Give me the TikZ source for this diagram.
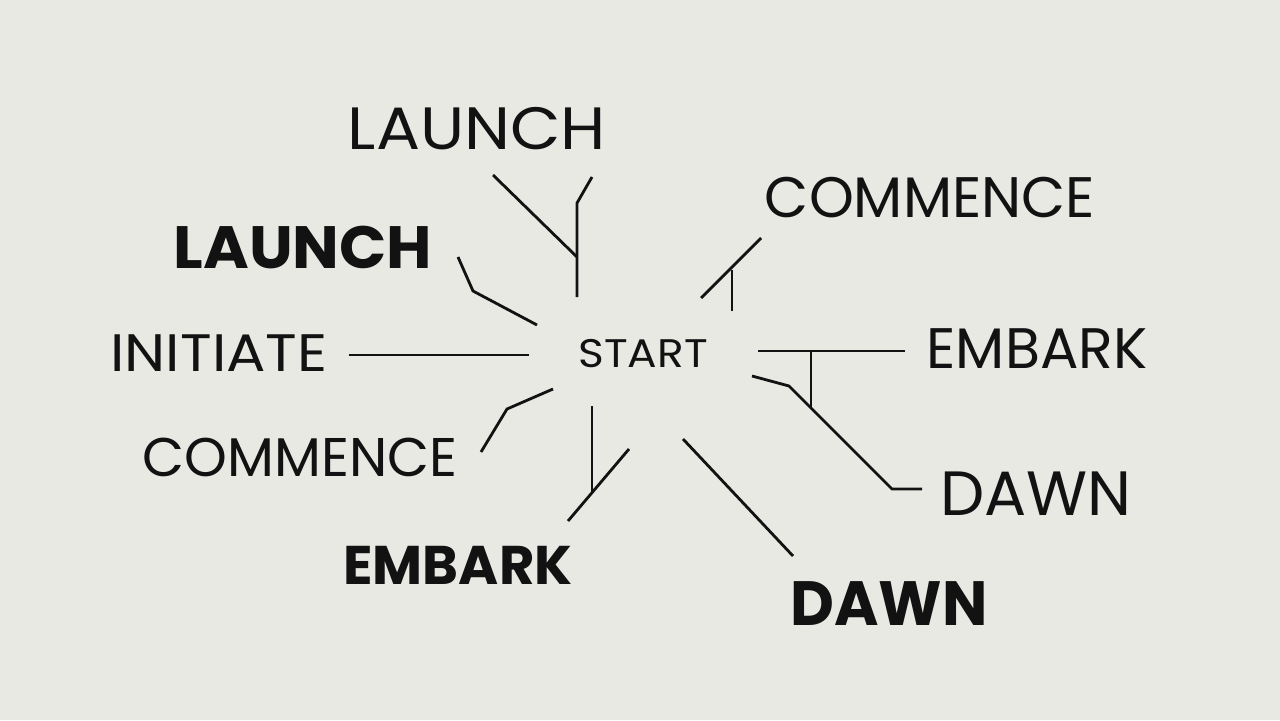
\documentclass[tikz,border=0pt]{standalone}
\usepackage{fontspec}
\setmainfont{Poppins}
\usepackage{graphicx}
\definecolor{bg}{HTML}{E9E9E4}
\definecolor{ink}{HTML}{121212}
\tikzset{
  word/.style={inner sep=0pt, anchor=center, text=ink},
  wreg/.style={word, font=\fontsize{#1}{#1}\selectfont},
  wbold/.style={word, font=\fontsize{#1}{#1}\selectfont\bfseries},
  link/.style={draw=ink, line width=1.6pt, line join=miter, line cap=butt},
}
\begin{document}
\begin{tikzpicture}[x=0.02cm, y=-0.02cm]
\fill[bg] (0,0) rectangle (1280,720);
\useasboundingbox (0,0) rectangle (1280,720);
% words
\node[wreg=22.7] (start) at (643,354) {\scalebox{1.1}[1]{START}};
\node[wreg=34] (launchA) at (477,129) {\scalebox{1.095}[1]{LAUNCH}};
\node[wbold=34] (launchB) at (303,247) {\scalebox{1.04}[1]{LAUNCH}};
\node[wreg=32.5] (commA) at (930,198) {COMMENCE};
\node[wreg=32.5] (embA) at (1037,349) {EMBARK};
\node[wreg=30] (init) at (219,353) {\scalebox{1.11}[1]{INITIATE}};
\node[wreg=31] (commB) at (300,457) {COMMENCE};
\node[wbold=31] (embB) at (458,565) {EMBARK};
\node[wreg=35.6] (dawnA) at (1036,494) {DAWN};
\node[wbold=35.6] (dawnB) at (889,604) {\scalebox{0.965}[1]{DAWN}};
% connector points
\coordinate (i1) at (349,355); \coordinate (i2) at (529,355);
\coordinate (lb1) at (458,257); \coordinate (lb2) at (473,291); \coordinate (lb3) at (537,325);
\coordinate (la1) at (493,175); \coordinate (la2) at (577,257);
\coordinate (la3) at (592,177); \coordinate (la4) at (577,203); \coordinate (la5) at (577,297);
\coordinate (ca1) at (701,298); \coordinate (ca2) at (761,238);
\coordinate (ca3) at (732,270); \coordinate (ca4) at (732,311);
\coordinate (ea1) at (758,351); \coordinate (ea2) at (905,351);
\coordinate (ea3) at (811,351); \coordinate (ea4) at (811,407);
\coordinate (da1) at (752,376); \coordinate (da2) at (789,386); \coordinate (da3) at (892,489); \coordinate (da4) at (922,489);
\coordinate (eb1) at (592,406); \coordinate (eb2) at (592,492);
\coordinate (eb3) at (568,521); \coordinate (eb4) at (629,449);
\coordinate (db1) at (683,439); \coordinate (db2) at (793,556);
\coordinate (cb1) at (481,452); \coordinate (cb2) at (507,409); \coordinate (cb3) at (553,389);
% connectors
\draw[link] (i1) -- (i2);
\draw[link] (lb1) -- (lb2) -- (lb3);
\draw[link] (la1) -- (la2);
\draw[link] (la3) -- (la4) -- (la5);
\draw[link] (ca1) -- (ca2);
\draw[link] (ca3) -- (ca4);
\draw[link] (ea1) -- (ea2);
\draw[link] (ea3) -- (ea4);
\draw[link] (da1) -- (da2) -- (da3) -- (da4);
\draw[link] (eb1) -- (eb2);
\draw[link] (eb3) -- (eb4);
\draw[link] (db1) -- (db2);
\draw[link] (cb1) -- (cb2) -- (cb3);
\end{tikzpicture}
\end{document}
